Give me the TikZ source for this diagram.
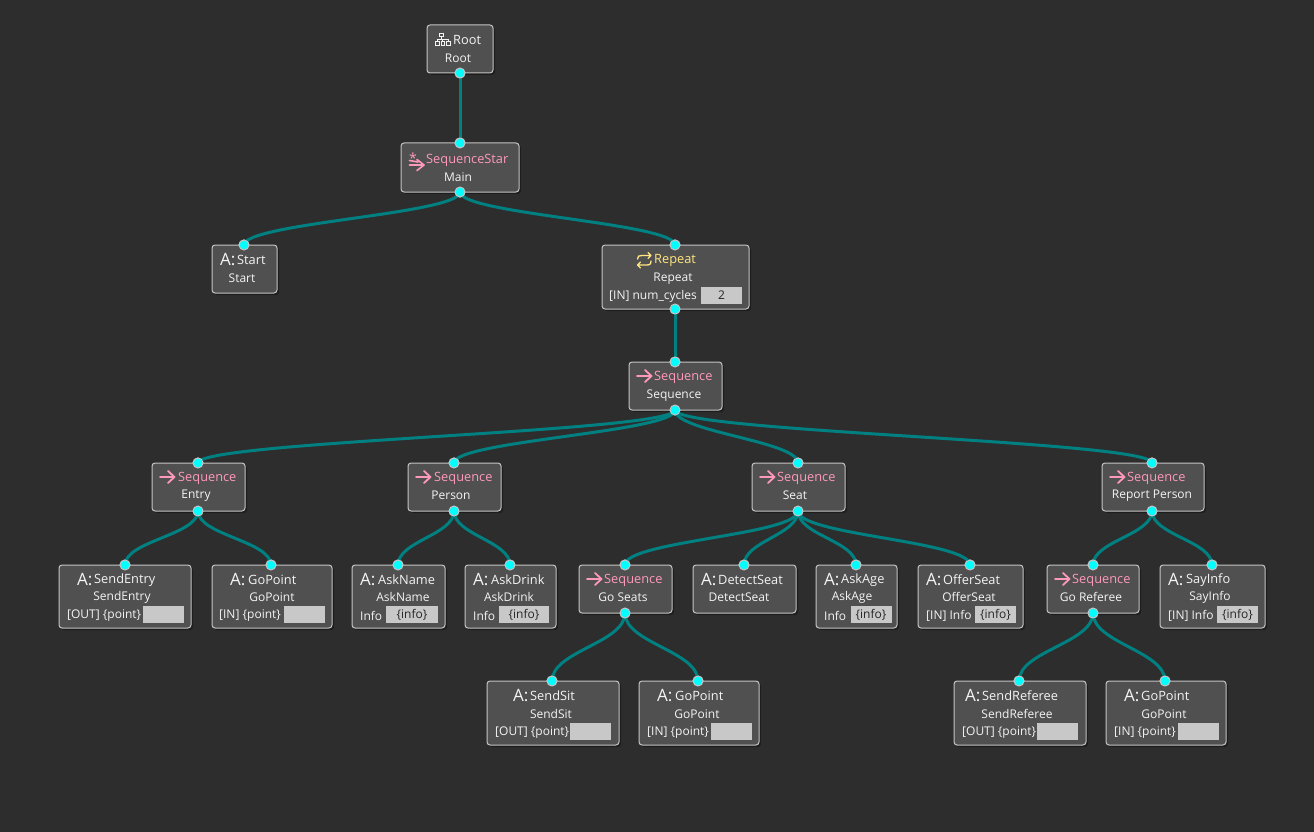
\documentclass[tikz,border=0pt]{standalone}
\usepackage{fontspec}
\setmainfont{Open Sans}
\usetikzlibrary{calc,shadows}
\definecolor{bgc}{HTML}{2D2D2D}
\definecolor{boxc}{HTML}{505050}
\definecolor{boxb}{HTML}{C4C4C4}
\definecolor{teal1}{HTML}{008080}
\definecolor{port}{HTML}{00FFFF}
\definecolor{pink1}{HTML}{FF99BB}
\definecolor{yell1}{HTML}{FFE680}
\definecolor{txt}{HTML}{F4F4F4}
\definecolor{field}{HTML}{C8C8C8}
\tikzset{
  x=1pt,y=-1pt,
  bt/.style={draw=boxb,fill=boxc,line width=1pt,rounded corners=3pt,inner sep=0pt,
    drop shadow={shadow xshift=2pt,shadow yshift=-2pt,opacity=.35,fill=black}},
  pt/.style={circle,draw=boxb,fill=port,line width=1pt,minimum size=10pt,inner sep=0pt},
  edge/.style={draw=teal1,line width=3pt},
  lbl/.style={text=txt,font=\fontsize{12}{12}\selectfont,inner sep=0pt},
  ttl/.style={lbl,anchor=west,font=\fontsize{12.8}{12.8}\selectfont},
  big/.style={lbl,anchor=west,font=\fontsize{17}{17}\selectfont},
  fld/.style={fill=field,inner sep=0pt,minimum width=41pt,minimum height=17pt,text=black!85,
    font=\fontsize{12}{12}\selectfont},
  ico/.style={line width=1.8pt,line cap=round,line join=round},
}
\newcommand\bx[5]{\node[bt,minimum width=#4pt,minimum height=#5pt] (#1) at (#2,#3) {};}
\newcommand\pp[3]{\node[pt] (#1) at (#2,#3) {};}
\newcommand\lb[4]{\node[lbl] (#1) at (#2,#3+0.3) {#4};}
\newcommand\seqttl[4]{% name, icon-left x, text-left x, y
  \draw[ico,draw=pink1] (#2,#4) -- ++(14,0) (#2+8,#4-6) -- (#2+14.5,#4) -- (#2+8,#4+6);
  \node[ttl,text=pink1] (#1) at (#3,#4+1) {Sequence};}
\newcommand\actttl[5]{% name, A x, text x, y, text
  \node[big] (#1a) at (#2,#4+0.5) {A:};
  \node[ttl] (#1) at (#3,#4+1) {#5};}
\newcommand\fl[4]{\node[fld] (#1) at (#2,#3) {#4};}
\newcommand\lft[4]{\node[lbl,anchor=west] (#1) at (#2,#3+1.5) {#4};}
\newcommand\edg[3]{\draw[edge] (#1.center) .. controls ($(#1.center)+(0,#3)$) and ($(#2.center)-(0,#3)$) .. (#2.center);}
\begin{document}
\begin{tikzpicture}
\useasboundingbox (0,0) rectangle (1314,832);
\fill[bgc] (0,0) rectangle (1314,832);
% ports first (coordinates needed by edges)
\pp{pRootO}{460}{73}
\pp{pMainI}{460}{143}\pp{pMainO}{460}{192}
\pp{pStartI}{244}{245}
\pp{pRepI}{675}{245}\pp{pRepO}{675}{309}
\pp{pSeqI}{675}{362}\pp{pSeqO}{675}{410}
\pp{pEntI}{198}{463}\pp{pEntO}{198}{511}
\pp{pPerI}{454}{463}\pp{pPerO}{454}{511}
\pp{pSeatI}{798}{463}\pp{pSeatO}{798}{511}
\pp{pRepPI}{1152}{463}\pp{pRepPO}{1152}{511}
\pp{pSEI}{125}{565}\pp{pGP1I}{271}{565}
\pp{pANI}{398}{565}\pp{pADI}{510}{565}
\pp{pGSI}{625}{565}\pp{pGSO}{625}{613}
\pp{pDSI}{744}{565}\pp{pAAI}{856}{565}\pp{pOSI}{970}{565}
\pp{pGRI}{1093}{565}\pp{pGRO}{1093}{613}
\pp{pSII}{1212}{565}
\pp{pSSI}{552}{681}\pp{pGP2I}{698}{681}
\pp{pSRI}{1019}{681}\pp{pGP3I}{1165}{681}
% edges
\edg{pRootO}{pMainI}{35}
\edg{pMainO}{pStartI}{22}\edg{pMainO}{pRepI}{22}
\edg{pRepO}{pSeqI}{26}
\edg{pSeqO}{pEntI}{22}\edg{pSeqO}{pPerI}{22}\edg{pSeqO}{pSeatI}{22}\edg{pSeqO}{pRepPI}{22}
\edg{pEntO}{pSEI}{24}\edg{pEntO}{pGP1I}{24}
\edg{pPerO}{pANI}{24}\edg{pPerO}{pADI}{24}
\edg{pSeatO}{pGSI}{24}\edg{pSeatO}{pDSI}{24}\edg{pSeatO}{pAAI}{24}\edg{pSeatO}{pOSI}{24}
\edg{pRepPO}{pGRI}{24}\edg{pRepPO}{pSII}{24}
\edg{pGSO}{pSSI}{30}\edg{pGSO}{pGP2I}{30}
\edg{pGRO}{pSRI}{30}\edg{pGRO}{pGP3I}{30}
% boxes
\bx{bRoot}{460}{49}{66}{48}
\bx{bMain}{460}{167.5}{118}{49}
\bx{bStart}{244.5}{269}{65}{48}
\bx{bRep}{675.5}{277}{147}{64}
\bx{bSeq}{675.5}{386}{93}{48}
\bx{bEnt}{198.5}{487}{93}{48}
\bx{bPer}{454.5}{487}{93}{48}
\bx{bSeat}{798.5}{487}{93}{48}
\bx{bRepP}{1153}{487}{102}{48}
\bx{bSE}{125}{596.5}{132}{63}
\bx{bGP1}{272}{596.5}{120}{63}
\bx{bAN}{398.5}{596.5}{93}{63}
\bx{bAD}{510.5}{596.5}{91}{63}
\bx{bGS}{625.5}{589}{93}{48}
\bx{bDS}{744.5}{589}{103}{48}
\bx{bAA}{856.5}{596.5}{81}{63}
\bx{bOS}{970.5}{596.5}{105}{63}
\bx{bGR}{1093}{589}{92}{48}
\bx{bSI}{1212.5}{596.5}{105}{63}
\bx{bSS}{553}{713}{132}{64}
\bx{bGP2}{699}{713}{120}{64}
\bx{bSR}{1020}{713}{132}{64}
\bx{bGP3}{1166}{713}{120}{64}
% ports on top
\foreach \p/\x/\y in {a/460/73,b/460/143,c/460/192,d/244/245,e/675/245,f/675/309,g/675/362,h/675/410,
 i/198/463,j/198/511,k/454/463,l/454/511,m/798/463,n/798/511,o/1152/463,q/1152/511,
 r/125/565,s/271/565,t/398/565,u/510/565,v/625/565,w/625/613,aa/744/565,ab/856/565,ac/970/565,
 ad/1093/565,ae/1093/613,af/1212/565,ag/552/681,ah/698/681,ai/1019/681,aj/1165/681}
  {\node[pt] (top\p) at (\x,\y) {};}
% Root
\draw[draw=txt,line width=.7pt] (439.5,33) rectangle (443.5,36.5) (435.5,41.5) rectangle (439,45) (441,41.5) rectangle (444.5,45) (446.5,41.5) rectangle (450,45)
  (441.5,36.5) -- (441.5,39) (437.5,41.5) -- (437.5,39) -- (448,39) -- (448,41.5) (442.8,39) -- (442.8,41.5);
\node[ttl] (tRoot) at (453,40) {Root};
\lb{sRoot}{458}{58}{Root}
% Main
\draw[ico,draw=pink1,line width=1.6pt] (409.5,165) -- (423.5,165) (417,159.5) -- (424,165) -- (417,170.5) (409.5,160.5) -- (418,162);
\node[lbl,anchor=center,text=pink1,font=\fontsize{14}{14}\selectfont] (tStar) at (413,158) {*};
\node[ttl,text=pink1] (tMain) at (426,160) {SequenceStar};
\lb{sMain}{458}{177}{Main}
% Start
\actttl{tStart}{220}{237}{259}{Start}
\lb{sStart}{242}{278}{Start}
% Repeat
\draw[ico,line width=1.3pt,draw=yell1] (637.5,259) .. controls (637.5,256) and (639,255.5) .. (642,255.5) -- (651,255.5) (648,252.5) -- (651,255.5) -- (648,258.5)
  (651,261) .. controls (651,264.5) and (649.5,265) .. (646,265) -- (637.5,265) (640.5,262) -- (637.5,265) -- (640.5,268);
\node[ttl,text=yell1] (tRep) at (654,260) {Repeat};
\lb{sRep}{673}{278}{Repeat}
\lft{iRep}{609}{295}{[IN] num\_cycles}
\fl{fRep}{721.5}{295}{2}
% Sequence nodes
\seqttl{tSeq}{637}{654}{376}\lb{sSeq}{674}{395}{Sequence}
\seqttl{tEnt}{160}{178}{477}\lb{sEnt}{196}{495}{Entry}
\seqttl{tPer}{416}{434}{477}\lb{sPer}{451}{495}{Person}
\seqttl{tSeat}{760}{777}{477}\lb{sSeat}{795}{495}{Seat}
\seqttl{tRepP}{1110}{1127}{477}\lb{sRepP}{1152}{495}{Report Person}
\seqttl{tGS}{587}{604}{579}\lb{sGS}{623}{597}{Go Seats}
\seqttl{tGR}{1055}{1072}{579}\lb{sGR}{1091}{597}{Go Referee}
% Actions
\actttl{tSE}{77}{94}{579}{SendEntry}\lb{sSE}{122}{597}{SendEntry}
\lft{iSE}{67}{614}{[OUT] \{point\}}\fl{fSE}{163.5}{614.5}{}
\actttl{tGP1}{230}{248}{579}{GoPoint}\lb{sGP1}{272}{597}{GoPoint}
\lft{iGP1}{219}{614}{[IN] \{point\}}\fl{fGP1}{304.5}{614.5}{}
\actttl{tAN}{360}{378}{579}{AskName}\lb{sAN}{403}{597}{AskName}
\lft{iAN}{360}{614}{Info}\node[fld,minimum width=52pt] (fAN) at (412,614.5) {\{info\}};
\actttl{tAD}{473}{491}{579}{AskDrink}\lb{sAD}{509}{597}{AskDrink}
\lft{iAD}{473}{614}{Info}\node[fld,minimum width=50pt] (fAD) at (524,614.5) {\{info\}};
\actttl{tDS}{701}{718}{579}{DetectSeat}\lb{sDS}{739}{597}{DetectSeat}
\actttl{tAA}{824}{841}{579}{AskAge}\lb{sAA}{852}{597}{AskAge}
\lft{iAA}{824}{614}{Info}\fl{fAA}{871}{614.5}{\{info\}}
\actttl{tOS}{926}{943}{579}{OfferSeat}\lb{sOS}{969}{597}{OfferSeat}
\lft{iOS}{926}{614}{[IN] Info}\fl{fOS}{995.5}{614.5}{\{info\}}
\actttl{tSI}{1168}{1186}{579}{SayInfo}\lb{sSI}{1210}{597}{SayInfo}
\lft{iSI}{1168}{614}{[IN] Info}\fl{fSI}{1237.5}{614.5}{\{info\}}
\actttl{tSS}{513}{530}{695}{SendSit}\lb{sSS}{551}{714}{SendSit}
\lft{iSS}{495}{731}{[OUT] \{point\}}\fl{fSS}{590.5}{731}{}
\actttl{tGP2}{657}{675}{695}{GoPoint}\lb{sGP2}{697}{714}{GoPoint}
\lft{iGP2}{647}{731}{[IN] \{point\}}\fl{fGP2}{731.5}{731}{}
\actttl{tSR}{965}{982}{695}{SendReferee}\lb{sSR}{1017}{714}{SendReferee}
\lft{iSR}{962}{731}{[OUT] \{point\}}\fl{fSR}{1057.5}{731}{}
\actttl{tGP3}{1124}{1141}{695}{GoPoint}\lb{sGP3}{1164}{714}{GoPoint}
\lft{iGP3}{1114}{731}{[IN] \{point\}}\fl{fGP3}{1198.5}{731}{}
\end{tikzpicture}
\end{document}
